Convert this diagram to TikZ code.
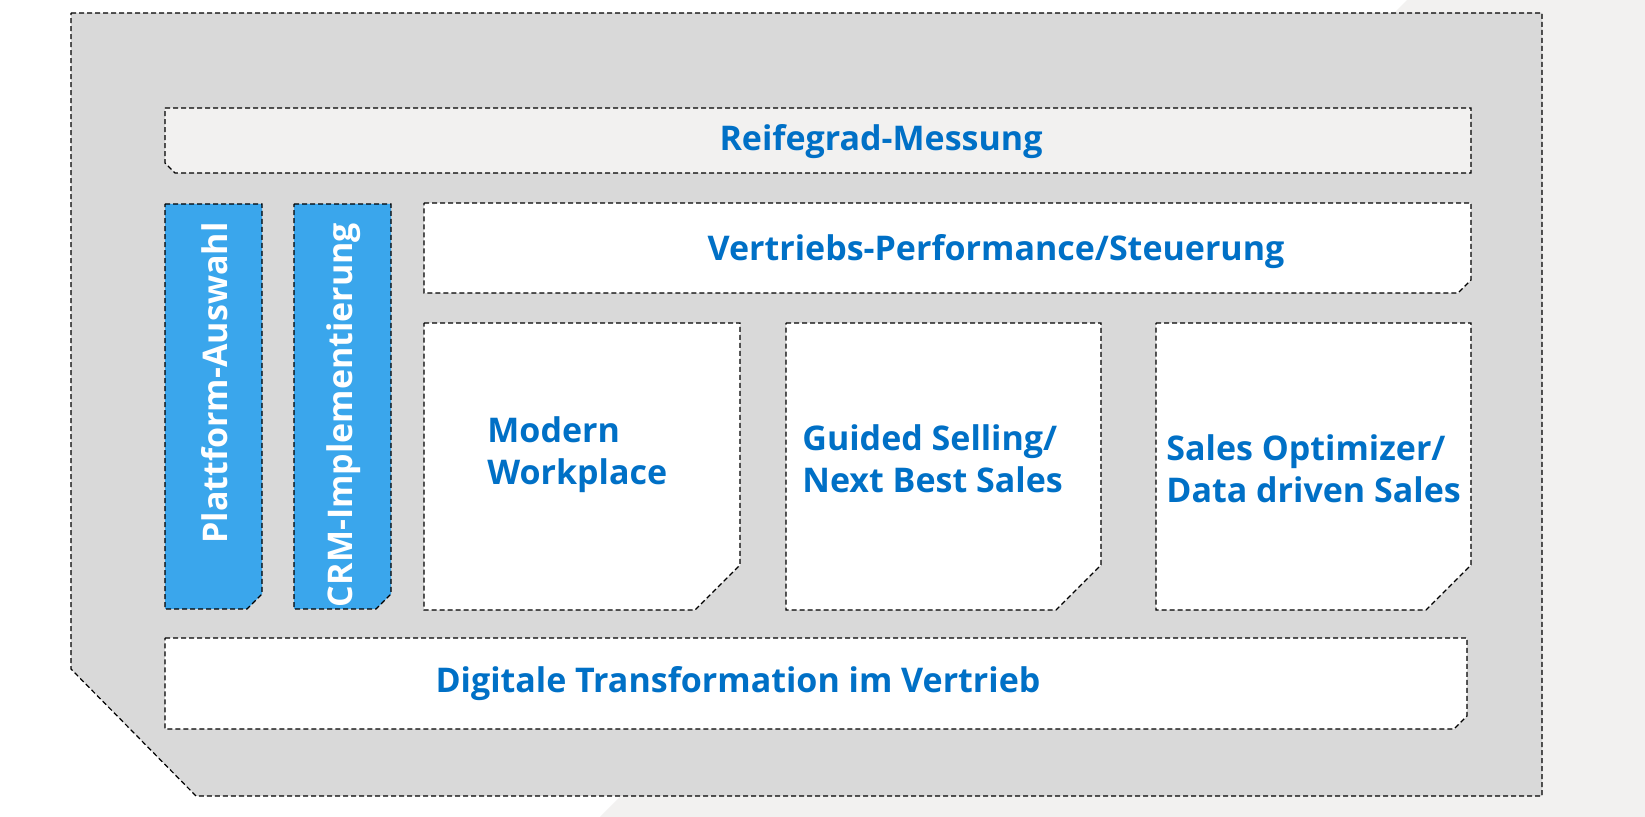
\documentclass[tikz,border=0pt]{standalone}
\usepackage{fontspec}
\setmainfont{Open Sans}
\definecolor{bgl}{HTML}{F2F1F0}
\definecolor{outerg}{HTML}{D9D9D9}
\definecolor{txtb}{HTML}{0070C6}
\definecolor{blueb}{HTML}{3AA6EC}
\begin{document}
\begin{tikzpicture}[x=0.5pt,y=-0.5pt,
  box/.style={draw=black,dash pattern=on 2.5pt off 1.5pt,line width=0.6pt},
  lbl/.style={font=\bfseries\fontsize{17}{21}\selectfont,text=txtb,inner sep=0pt},
  wlbl/.style={font=\bfseries\fontsize{17}{21}\selectfont,text=white,inner sep=0pt,rotate=90}]
\useasboundingbox (0,0) rectangle (1645,817);
\fill[white] (0,0) rectangle (1645,817);
\fill[bgl] (1407,0) -- (1645,0) -- (1645,817) -- (600,817) -- cycle;
% outer
\draw[box,fill=outerg] (71,13) -- (1542,13) -- (1542,796) -- (196,796) -- (71,669) -- cycle;
% Reifegrad
\draw[box,fill=bgl] (165,108) -- (1471,108) -- (1471,173) -- (175,173) -- (165,163) -- cycle;
\node[lbl] (reife) at (881,142) {Reifegrad-Messung};
% Vertriebs
\draw[box,fill=white] (424,203) -- (1471,203) -- (1471,280) -- (1458,293) -- (424,293) -- cycle;
\node[lbl] (vert) at (996,252) {Vertriebs-Performance/Steuerung};
% blue
\draw[box,fill=blueb] (165,204) -- (262,204) -- (262,594) -- (247,609) -- (165,609) -- cycle;
\node[wlbl] (platt) at (215,383) {Plattform-Auswahl};
\draw[box,fill=blueb] (294,204) -- (391,204) -- (391,594) -- (376,609) -- (294,609) -- cycle;
\node[wlbl] (crm) at (344,415) {CRM-Implementierung};
% middle boxes
\draw[box,fill=white] (424,323) -- (740,323) -- (740,565) -- (695,610) -- (424,610) -- cycle;
\node[lbl,align=left,anchor=west] (mw) at (487,455) {Modern\\Workplace};
\draw[box,fill=white] (786,323) -- (1101,323) -- (1101,565) -- (1056,610) -- (786,610) -- cycle;
\node[lbl,align=left,anchor=west] (gs) at (802,459) {Guided Selling/\\Next Best Sales};
\draw[box,fill=white] (1156,323) -- (1471,323) -- (1471,565) -- (1426,610) -- (1156,610) -- cycle;
\node[lbl,align=left,anchor=west] (so) at (1166,469) {Sales Optimizer/\\Data driven Sales};
% Digitale
\draw[box,fill=white] (165,638) -- (1467,638) -- (1467,716) -- (1454,729) -- (165,729) -- cycle;
\node[lbl] (dig) at (738,684) {Digitale Transformation im Vertrieb};
\end{tikzpicture}
\end{document}
